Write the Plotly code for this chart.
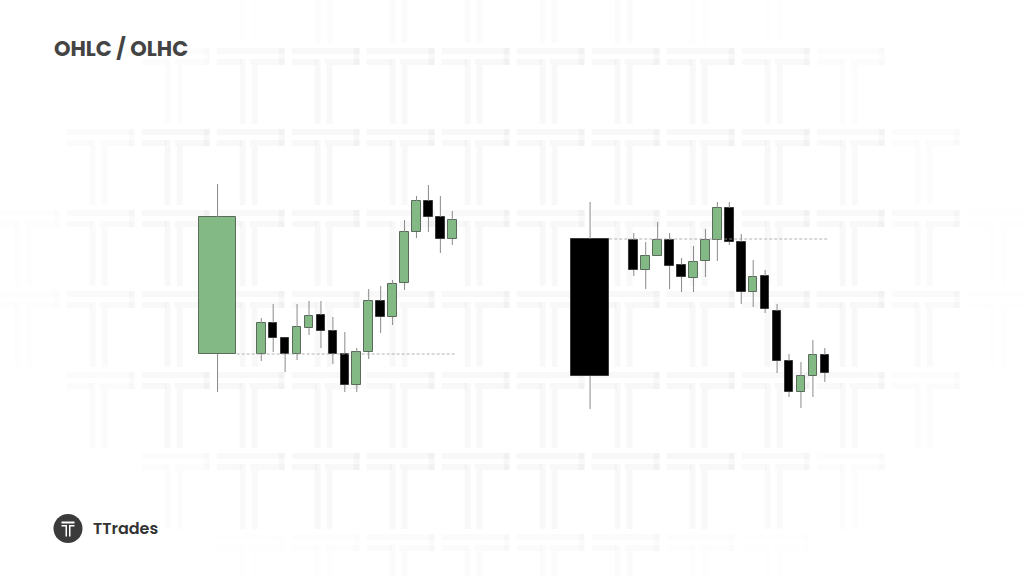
import plotly.graph_objects as go

# ---------------- data ----------------
# Left panel: higher-timeframe candle (bullish, OHLC) and its lower-timeframe breakdown
left_htf_open, left_htf_high, left_htf_low, left_htf_close = 246, 416, 208, 383
left_open  = [246, 277, 262, 246, 272, 285, 269, 246, 215, 248, 299, 283, 317, 368, 399, 383, 361]
left_high  = [282, 296, 262, 296, 299, 299, 283, 268, 252, 311, 314, 320, 380, 404, 415, 404, 389]
left_low   = [239, 248, 228, 240, 265, 252, 236, 208, 208, 241, 267, 275, 310, 362, 368, 347, 355]
left_close = [277, 262, 246, 273, 284, 269, 246, 215, 248, 299, 283, 316, 368, 399, 383, 361, 380]

# Right panel: higher-timeframe candle (bearish, OLHC) and its lower-timeframe breakdown
right_htf_open, right_htf_high, right_htf_low, right_htf_close = 361, 398, 191, 224
right_open  = [360, 330, 344, 360, 335, 322, 339, 360, 392, 358, 308, 324, 289, 239, 208, 224, 245]
right_high  = [367, 358, 378, 367, 342, 354, 371, 398, 398, 366, 340, 330, 296, 246, 238, 260, 252]
right_low   = [324, 311, 344, 311, 308, 308, 323, 339, 355, 296, 293, 287, 227, 203, 192, 203, 218]
right_close = [330, 344, 360, 334, 323, 338, 360, 392, 358, 308, 323, 291, 239, 208, 224, 245, 227]

HTF_X = -2.66          # slot of the higher-timeframe candle
LTF_X = list(range(1, 18))
title_text = "OHLC / OLHC"
brand_text = "TTrades"

# ---------------- style ----------------
UP_FILL = "#82b984"
UP_LINE = "#5b6b5b"
DN_FILL = "#000000"
DN_LINE = "#3a3a3a"
WICK = "#8a8a8a"
W_PX = 1024
H_PX = 576

fig = go.Figure()


def add_candles(xs, o, h, l, c, width, xa):
    base, height, fills, lines = [], [], [], []
    wx, wy = [], []
    for x, oo, hh, ll, cc in zip(xs, o, h, l, c):
        top, bot = max(oo, cc), min(oo, cc)
        base.append(bot)
        height.append(top - bot)
        fills.append(UP_FILL if cc >= oo else DN_FILL)
        lines.append(UP_LINE if cc >= oo else DN_LINE)
        if hh > top:
            wx += [x, x, None]
            wy += [top, hh, None]
        if ll < bot:
            wx += [x, x, None]
            wy += [ll, bot, None]
    fig.add_trace(go.Scatter(x=wx, y=wy, mode="lines", xaxis=xa, yaxis="y",
                             line=dict(color=WICK, width=1), hoverinfo="skip",
                             showlegend=False))
    fig.add_trace(go.Bar(x=xs, y=height, base=base, width=[width] * len(xs),
                         xaxis=xa, yaxis="y",
                         marker=dict(color=fills, line=dict(color=lines, width=1)),
                         showlegend=False))


def add_panel(xa, htf, o, h, l, c):
    ho, hh, hl, hc = htf
    # dashed reference line at the HTF open
    fig.add_trace(go.Scatter(x=[HTF_X + 1.6, LTF_X[-1] + 0.27], y=[ho, ho], mode="lines",
                             xaxis=xa, yaxis="y",
                             line=dict(color="#a0a0a0", width=0.8, dash="3px,2px"),
                             hoverinfo="skip", showlegend=False))
    add_candles([HTF_X], [ho], [hh], [hl], [hc], 3.15, xa)
    add_candles(LTF_X, o, h, l, c, 0.72, xa)


add_panel("x", (left_htf_open, left_htf_high, left_htf_low, left_htf_close),
          left_open, left_high, left_low, left_close)
add_panel("x2", (right_htf_open, right_htf_high, right_htf_low, right_htf_close),
          right_open, right_high, right_low, right_close)

# ---------------- faint tiled watermark background ----------------
shapes = []


def px_rect(x0, y0, x1, y1, color, layer="below"):
    shapes.append(dict(type="rect", xref="paper", yref="paper",
                       x0=x0 / W_PX, x1=x1 / W_PX, y0=1 - y1 / H_PX, y1=1 - y0 / H_PX,
                       fillcolor=color, line=dict(width=0), layer=layer))


tile_parts = [(0, 0, 68, 6), (0, 11, 25, 17), (33, 11, 68, 17), (62, 0, 68, 17),
              (23, 11, 29, 76), (35, 17, 41, 76)]
cx, cy, ax_, ay_ = 512, 290, 520, 340
for i in range(15):
    for j in range(8):
        ox = -8.3 + 75 * i
        oy = -33 + 81 * j
        tx, ty = ox + 35, oy + 40
        d = ((tx - cx) / ax_) ** 2 + ((ty - cy) / ay_) ** 2
        if d >= 1:
            continue
        a = 0.028 * min(1.0, (1 - d) * 2.0)
        col = f"rgba(0,0,0,{a:.4f})"
        for (a0, b0, a1, b1) in tile_parts:
            px_rect(ox + a0, oy + b0, ox + a1, oy + b1, col)

# logo circle and T glyph
shapes.append(dict(type="circle", xref="paper", yref="paper",
                   x0=53.5 / W_PX, x1=82.5 / W_PX, y0=1 - 543 / H_PX, y1=1 - 514 / H_PX,
                   fillcolor="#3b3b3b", line=dict(width=0), layer="above"))
for (a0, b0, a1, b1) in [(61.5, 521.5, 74.5, 523.5), (61.5, 525, 66.5, 526.5),
                         (69.5, 525, 74.5, 526.5), (65.5, 525, 67, 536.5),
                         (69, 525, 70.5, 536.5)]:
    px_rect(a0, b0, a1, b1, "white", layer="above")

fig.update_layout(
    width=W_PX, height=H_PX,
    margin=dict(l=0, r=0, t=0, b=0),
    paper_bgcolor="white", plot_bgcolor="rgba(0,0,0,0)",
    barmode="overlay", bargap=0,
    showlegend=False,
    xaxis=dict(domain=[0, 0.5], range=[-20.88, 22.0], visible=False, fixedrange=True),
    xaxis2=dict(domain=[0.5, 1], range=[-9.2, 33.68], visible=False, anchor="y",
                fixedrange=True),
    yaxis=dict(range=[24, 600], visible=False, fixedrange=True),
    shapes=shapes,
    annotations=[
        dict(text=f"<b>{title_text}</b>", xref="paper", yref="paper",
             x=52 / W_PX, y=1 - 49 / H_PX, xanchor="left", yanchor="middle",
             showarrow=False, font=dict(family="Poppins, Inter, sans-serif", size=21,
                                        color="#444444")),
        dict(text=brand_text, xref="paper", yref="paper",
             x=91 / W_PX, y=1 - 528 / H_PX, xanchor="left", yanchor="middle",
             showarrow=False, font=dict(family="Poppins, Inter, sans-serif", size=16,
                                        color="#333333", weight=600)),
    ],
)

fig.write_html("out.html", config={"displayModeBar": False},
               post_script="document.body.style.margin='0';")
